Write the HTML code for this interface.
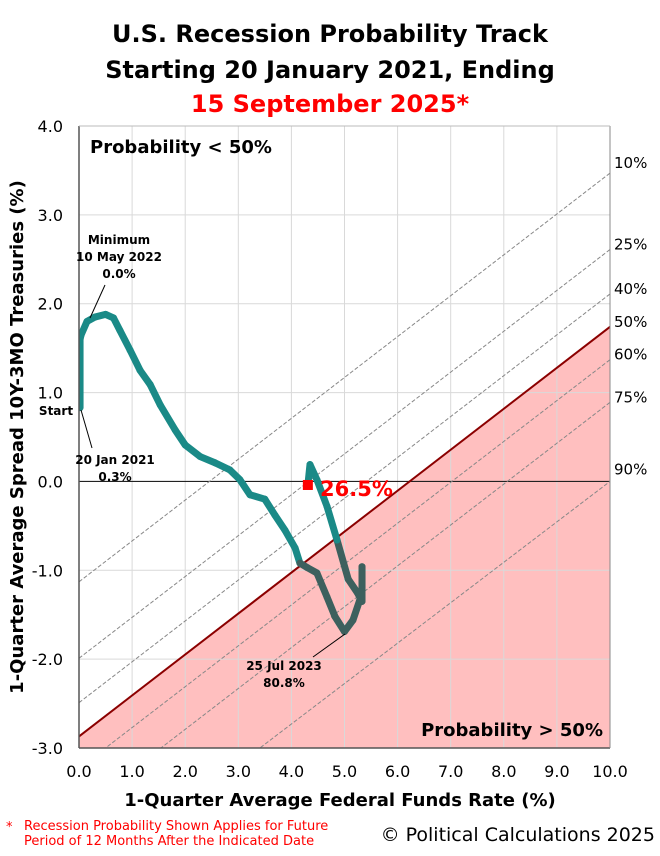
<!DOCTYPE html>
<html><head><meta charset="utf-8"><style>
body{margin:0;background:#fff;}
svg text{font-family:"DejaVu Sans","Liberation Sans",sans-serif;}
</style></head><body>
<svg width="660" height="851" viewBox="0 0 660 851" xmlns="http://www.w3.org/2000/svg">
<g font-weight="bold" font-size="24" text-anchor="middle">
<text x="330" y="42" fill="#000">U.S. Recession Probability Track</text>
<text x="330" y="78" fill="#000">Starting 20 January 2021, Ending</text>
<text x="330" y="112" fill="#f00">15 September 2025*</text>
</g>
<defs><clipPath id="plot"><rect x="79" y="126" width="531" height="622"/></clipPath></defs>
<g id="plotg"></g>
<g>
<text x="6" y="831" fill="#f00" font-size="13">*</text>
<text x="24" y="830" fill="#f00" font-size="13">Recession Probability Shown Applies for Future</text>
<text x="24" y="845" fill="#f00" font-size="13">Period of 12 Months After the Indicated Date</text>
<text x="655" y="841" fill="#000" font-size="19" text-anchor="end">© Political Calculations 2025</text>
</g>
</svg>
<script>
const xTicks=[0,1,2,3,4,5,6,7,8,9,10];
const yTicks=[4,3,2,1,0,-1,-2,-3];
const probLabels=['10%','25%','40%','50%','60%','75%','90%'];
const probY0=[-1.13,-1.99,-2.49,-2.87,-3.23,-3.71,-4.55];
const probY10=[3.47,2.61,2.11,1.74,1.37,0.89,0.0];
const trackX=[0.02,0.02,0.04,0.15,0.3,0.5,0.65,0.77,0.96,1.15,1.34,1.53,1.81,2.0,2.28,2.56,2.84,3.03,3.22,3.5,3.69,3.88,4.07,4.16,4.3,4.48,4.67,4.82,5.0,5.16,5.29,5.33,5.33,5.33,5.24,5.07,4.86,4.67,4.48,4.35,4.31];
const trackY=[0.83,1.6,1.65,1.8,1.85,1.88,1.84,1.7,1.48,1.25,1.09,0.86,0.58,0.41,0.28,0.21,0.13,0.02,-0.15,-0.2,-0.38,-0.55,-0.75,-0.92,-0.97,-1.03,-1.3,-1.52,-1.69,-1.56,-1.33,-1.2,-0.96,-1.35,-1.25,-1.1,-0.66,-0.28,0.02,0.19,-0.04];
const X0=79,X1=610,Y0=748,Y1=126;
const sx=v=>X0+v/10*(X1-X0);
const sy=v=>Y0-(v+3)/7*(Y0-Y1);
const NS='http://www.w3.org/2000/svg';
const g=document.getElementById('plotg');
function mk(t,a,p){const e=document.createElementNS(NS,t);for(const k in a)e.setAttribute(k,a[k]);(p||g).appendChild(e);return e;}
const clip=mk('g',{'clip-path':'url(#plot)'});


// pink region
const fill=mk('polygon',{points:`${sx(0)},${sy(probY0[3])} ${sx(10)},${sy(probY10[3])} ${sx(10)},${sy(-3)} ${sx(0)},${sy(-3)}`,fill:'#ffbfbf'},clip);


xTicks.forEach(t=>{const l=mk('line',{x1:sx(t),x2:sx(t),y1:Y1,y2:Y0,stroke:'#d9d9d9','stroke-width':1},clip);

});
yTicks.forEach(t=>{const l=mk('line',{x1:X0,x2:X1,y1:sy(t),y2:sy(t),stroke:t===0?'#222':'#d9d9d9','stroke-width':t===0?1.2:1},clip);

});
probLabels.forEach((lab,i)=>{
 const is50=i===3;
 const l=mk('line',{x1:sx(0),y1:sy(probY0[i]),x2:sx(10),y2:sy(probY10[i]),stroke:is50?'#8b0000':'#888','stroke-width':is50?2:1,'stroke-dasharray':is50?'':'4,2'},clip);
 
 
 const t=mk('text',{x:614,y:sy(probY10[i])-Math.max(0,0)+(i===0?-5:i===6?-7:0),'font-size':15,fill:'#000'});
 t.textContent=lab;
 
 
});
// track
let pts=trackX.map((x,i)=>[sx(x),sy(trackY[i])]);
for(let i=0;i<pts.length-1;i++){
 const mx=(trackX[i]+trackX[i+1])/2,my=(trackY[i]+trackY[i+1])/2;
 const below=my< -2.87+0.461*mx-0.02 && i>20;
 const s=mk('line',{x1:pts[i][0],y1:pts[i][1],x2:pts[i+1][0],y2:pts[i+1][1],stroke:below?'#3d605e':'#1a8a87','stroke-width':7,'stroke-linecap':'round'},clip);
 
 
}
const n=trackX.length-1;
const end=mk('rect',{x:sx(trackX[n])-5,y:sy(trackY[n])-5,width:10,height:10,fill:'#f00'});


// axes
mk('line',{x1:X0,x2:X0,y1:Y1,y2:Y0,stroke:'#555','stroke-width':1.5});
mk('line',{x1:X0,x2:X1,y1:Y0,y2:Y0,stroke:'#555','stroke-width':1.5});
mk('line',{x1:X1,x2:X1,y1:Y1,y2:Y0,stroke:'#888','stroke-width':1});
mk('line',{x1:X0,x2:X1,y1:Y1,y2:Y1,stroke:'#bbb','stroke-width':1});
yTicks.forEach(t=>{const e=mk('text',{x:X0-16,y:sy(t)+6,'font-size':16,'text-anchor':'end'});e.textContent=t.toFixed(1);

});
xTicks.forEach(t=>{const e=mk('text',{x:sx(t),y:777,'font-size':16,'text-anchor':'middle'});e.textContent=t.toFixed(1);

});
const xt=mk('text',{x:340,y:806,'font-size':18,'font-weight':'bold','text-anchor':'middle'});xt.textContent='1-Quarter Average Federal Funds Rate (%)';


const yt=mk('text',{x:0,y:0,'font-size':18,'font-weight':'bold','text-anchor':'middle',transform:`translate(23,${(Y0+Y1)/2}) rotate(-90)`});yt.textContent='1-Quarter Average Spread 10Y-3MO Treasuries (%)';


function txt(x,y,s,o){const e=mk('text',Object.assign({x:x,y:y},o));e.textContent=s;return e;}
let a=txt(90,153,'Probability < 50%',{'font-size':18,'font-weight':'bold'});


a=txt(603,736,'Probability > 50%',{'font-size':18,'font-weight':'bold','text-anchor':'end'});


a=txt(320,496,'26.5%',{'font-size':21,'font-weight':'bold',fill:'#f00'});


const ann=[[119,244,'Minimum'],[119,261,'10 May 2022'],[119,278,'0.0%'],[56,415,'Start'],[115,464,'20 Jan 2021'],[115,481,'0.3%'],[284,670,'25 Jul 2023'],[284,687,'80.8%']];
ann.forEach(r=>{a=txt(r[0],r[1],r[2],{'font-size':12,'font-weight':'bold','text-anchor':r[2]==='Start'?'middle':'middle'});

});
mk('line',{x1:105,y1:285,x2:90,y2:318,stroke:'#000','stroke-width':1});
mk('line',{x1:81,y1:410,x2:92,y2:448,stroke:'#000','stroke-width':1});
mk('line',{x1:313,y1:657,x2:345,y2:634,stroke:'#000','stroke-width':1});
</script>
</body></html>
